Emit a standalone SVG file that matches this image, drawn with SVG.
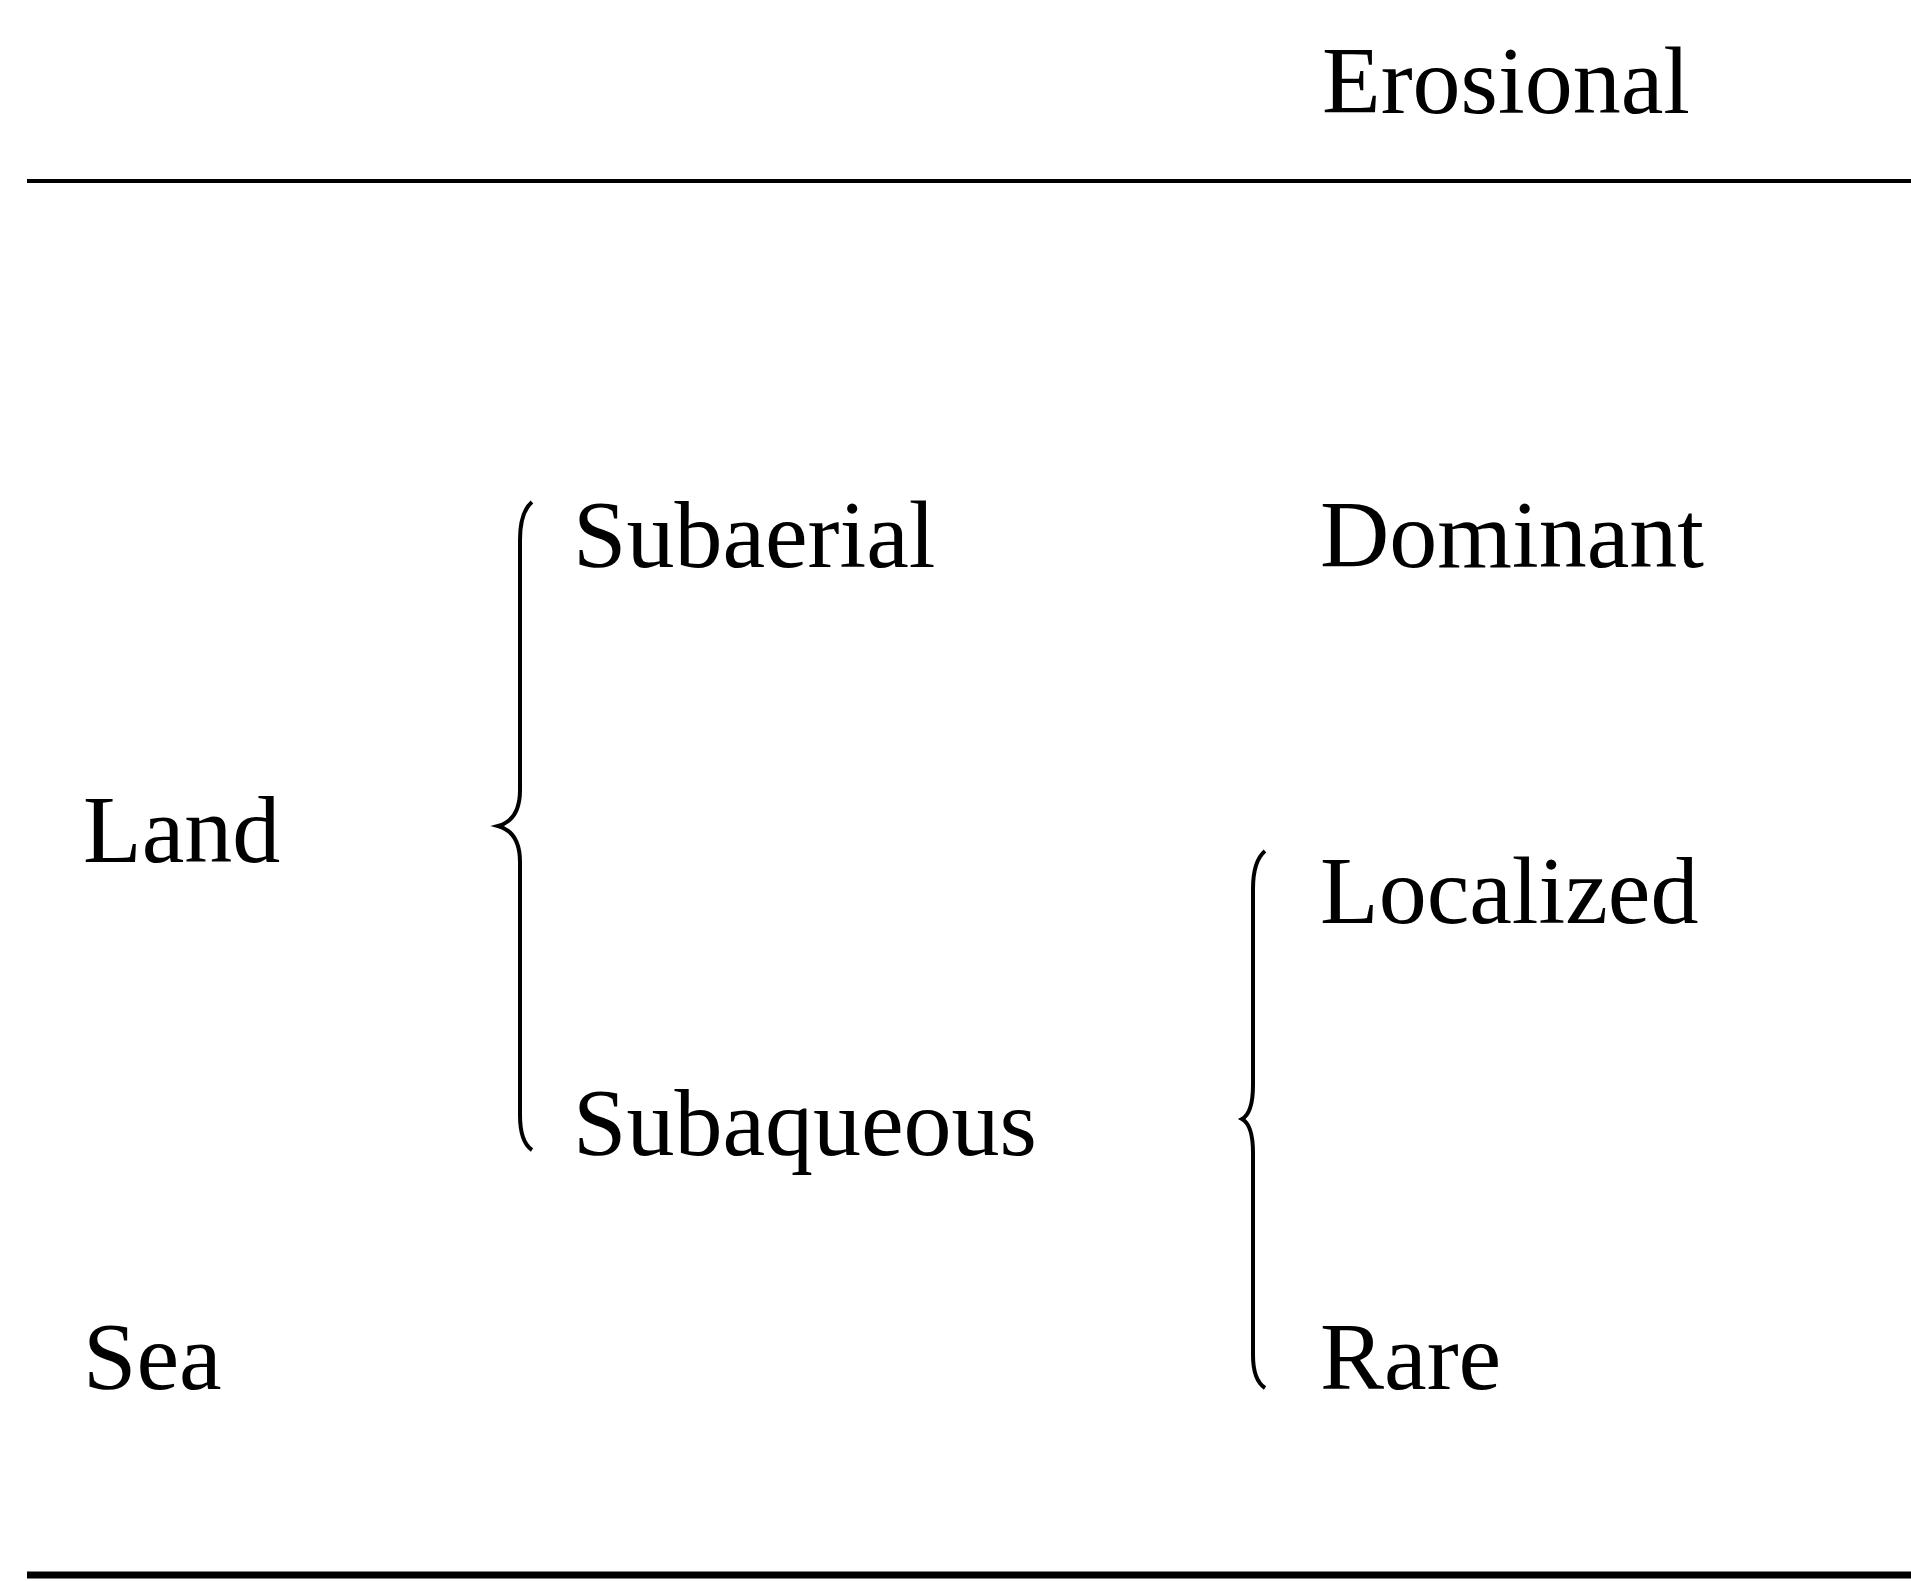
<svg xmlns="http://www.w3.org/2000/svg" width="1911" height="1581" viewBox="0 0 1911 1581">
<style>
text{font-family:"Liberation Serif","Times New Roman",serif;font-size:96px;fill:#000}
.br{fill:none;stroke:#000;stroke-width:4}
</style>
<rect width="1911" height="1581" fill="#fff"/>
<g id="rules">
<line x1="27" y1="181" x2="1911" y2="181" stroke="#000" stroke-width="4"/>
<line x1="27" y1="1575" x2="1911" y2="1575" stroke="#000" stroke-width="7"/>
</g>
<g id="header"><text x="1322" y="113">Erosional</text></g>
<g id="land"><text x="83" y="862">Land</text></g>
<g id="sea"><text x="83" y="1389">Sea</text></g>
<g id="subaerial"><text x="573" y="567">Subaerial</text></g>
<g id="subaqueous"><text x="573" y="1155">Subaqueous</text></g>
<g id="dominant"><text x="1320" y="567">Dominant</text></g>
<g id="localized"><text x="1320" y="923">Localized</text></g>
<g id="rare"><text x="1320" y="1389">Rare</text></g>
<g id="connectors">
<path class="br" d="M532,502 Q520,512 520,540 L520,790 Q520,820 498,826 Q520,832 520,862 L520,1115 Q520,1142 532,1150"/>
<path class="br" d="M1265,851 Q1253,861 1253,889 L1253,1085 Q1253,1113 1242,1119 Q1253,1125 1253,1153 L1253,1355 Q1253,1380 1265,1388"/>
</g>
</svg>
